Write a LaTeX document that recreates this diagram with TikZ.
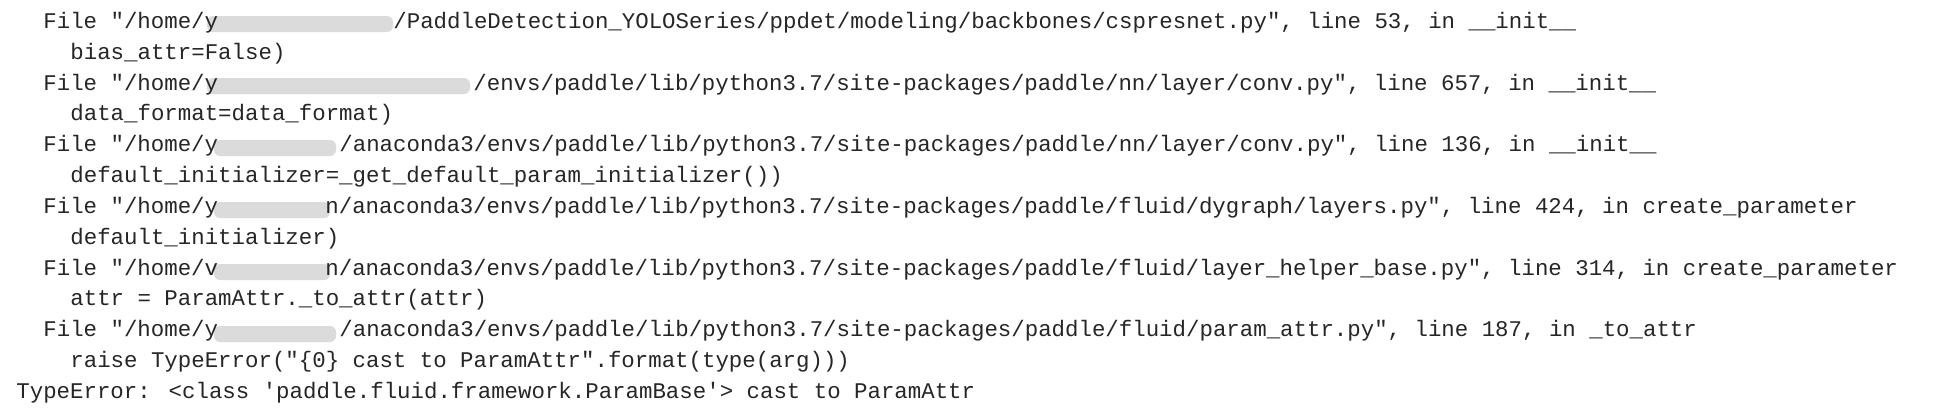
\documentclass[tikz,border=0pt]{standalone}
\usepackage{fontspec}
\newfontfamily\codefont{Liberation Mono}[Ligatures=NoCommon]
\begin{document}
\begin{tikzpicture}[x=0.5pt,y=0.5pt,
        font=\codefont\fontsize{11.2pt}{13pt}\selectfont
    ]
    \tikzset{
        codeline/.style = {anchor=base west, inner sep=0pt, text=black!85},
        smudge/.style = {fill=black!14, draw=none, rounded corners=3pt}
    }
    \useasboundingbox[fill=white] (0,0) rectangle (1951,-409);
    % blurred user names
    \fill[smudge] (207,-16) rectangle (393,-32);
    \fill[smudge] (207,-78) rectangle (470,-94);
    \fill[smudge] (214,-140) rectangle (336,-156);
    \fill[smudge] (214,-202) rectangle (330,-218);
    \fill[smudge] (214,-264) rectangle (330,-280);
    \fill[smudge] (214,-326) rectangle (336,-342);
    % traceback
    \node[codeline] (f1) at (43,-28) {File "/home/y};
    \node[codeline] (p1) at (393,-28) {/PaddleDetection\_YOLOSeries/ppdet/modeling/backbones/cspresnet.py", line 53, in \_\_init\_\_};
    \node[codeline] (c1) at (70,-59) {bias\_attr=False)};
    \node[codeline] (f2) at (43,-90) {File "/home/y};
    \node[codeline] (p2) at (473,-90) {/envs/paddle/lib/python3.7/site-packages/paddle/nn/layer/conv.py", line 657, in \_\_init\_\_};
    \node[codeline] (c2) at (70,-120) {data\_format=data\_format)};
    \node[codeline] (f3) at (43,-151) {File "/home/y};
    \node[codeline] (p3) at (339,-151) {/anaconda3/envs/paddle/lib/python3.7/site-packages/paddle/nn/layer/conv.py", line 136, in \_\_init\_\_};
    \node[codeline] (c3) at (70,-182) {default\_initializer=\_get\_default\_param\_initializer())};
    \node[codeline] (f4) at (43,-213) {File "/home/y};
    \node[codeline] (p4) at (325,-213) {n/anaconda3/envs/paddle/lib/python3.7/site-packages/paddle/fluid/dygraph/layers.py", line 424, in create\_parameter};
    \node[codeline] (c4) at (70,-244) {default\_initializer)};
    \node[codeline] (f5) at (43,-275) {File "/home/v};
    \node[codeline] (p5) at (325,-275) {n/anaconda3/envs/paddle/lib/python3.7/site-packages/paddle/fluid/layer\_helper\_base.py", line 314, in create\_parameter};
    \node[codeline] (c5) at (70,-305) {attr = ParamAttr.\_to\_attr(attr)};
    \node[codeline] (f6) at (43,-336) {File "/home/y};
    \node[codeline] (p6) at (339,-336) {/anaconda3/envs/paddle/lib/python3.7/site-packages/paddle/fluid/param\_attr.py", line 187, in \_to\_attr};
    \node[codeline] (c6) at (70,-367) {raise TypeError("\{0\} cast to ParamAttr".format(type(arg)))};
    \node[codeline] (err) at (16,-398) {TypeError: <class 'paddle.fluid.framework.ParamBase'> cast to ParamAttr};
\end{tikzpicture}
\end{document}
